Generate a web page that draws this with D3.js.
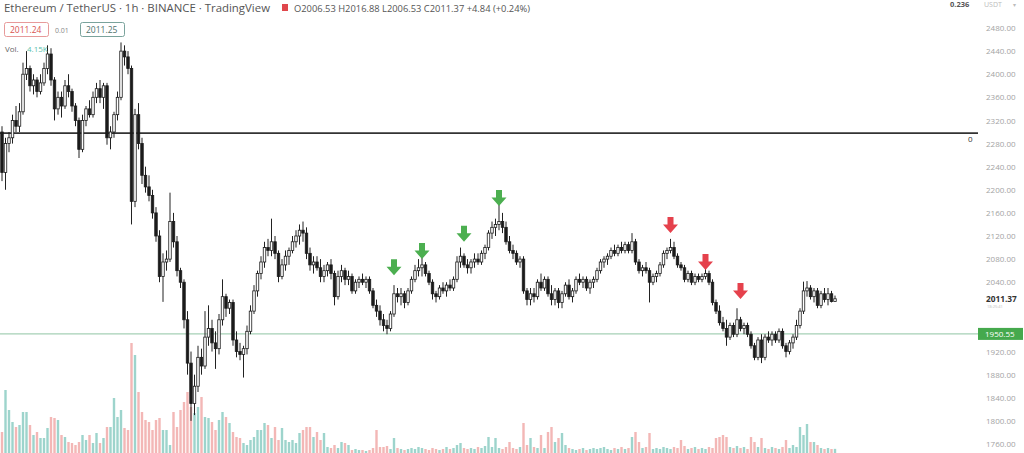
<!DOCTYPE html>
<html><head><meta charset="utf-8">
<script src="https://cdn.jsdelivr.net/npm/d3@7"></script>
<style>html,body{margin:0;padding:0;background:#fff;overflow:hidden}svg{display:block;font-family:"Open Sans","Liberation Sans",Arial,sans-serif}</style>
</head><body><svg id="c" width="1024" height="453"></svg>
<script>
const opens=[
2300,2230,2280,2290,2320,2310,2335,2400,2410,2380,
2390,2370,2385,2410,2435,2390,2340,2360,2345,2380,
2370,2345,2320,2270,2320,2340,2330,2360,2375,2360,
2380,2290,2300,2330,2360,2440,2430,2410,2180,2330,
2280,2225,2205,2190,2160,2120,2050,2075,2080,2145,
2110,2060,2040,1975,1900,1830,1860,1910,1895,1945,
1960,1935,1925,1975,2015,1995,2005,1940,1920,1915,
1925,1955,1990,2025,2055,2075,2100,2095,2110,2090,
2050,2070,2085,2095,2110,2120,2130,2125,2090,2070,
2075,2065,2050,2060,2070,2055,2015,2050,2060,2045,
2050,2025,2040,2045,2040,2045,2025,2000,1990,1975,
1965,1960,1985,2020,2015,2020,2005,2025,2045,2060,
2065,2070,2055,2040,2020,2015,2030,2025,2035,2030,
2045,2075,2085,2070,2065,2075,2080,2075,2090,2100,
2125,2135,2140,2145,2135,2110,2095,2090,2075,2080,
2025,2010,2020,2015,2040,2030,2045,2020,2010,2025,
2005,2020,2035,2015,2025,2045,2040,2045,2030,2040,
2045,2060,2075,2080,2085,2095,2090,2100,2095,2105,
2095,2110,2075,2060,2065,2060,2040,2050,2055,2070,
2090,2095,2100,2085,2070,2065,2045,2055,2040,2050,
2045,2050,2055,2040,2005,1990,1970,1960,1945,1965,
1950,1975,1960,1965,1950,1930,1910,1940,1910,1945,
1940,1950,1940,1955,1930,1920,1935,1945,1965,1990,
2025,2030,2015,2025,2000,2020,2010,2020,2006.53];
const highs=[
2310,2290,2300,2330,2345,2350,2420,2440,2415,2400,
2395,2400,2420,2450,2445,2395,2370,2370,2390,2400,
2375,2350,2325,2330,2345,2355,2370,2385,2390,2385,
2385,2310,2335,2370,2455,2450,2440,2415,2340,2350,
2290,2240,2225,2200,2170,2130,2090,2095,2195,2160,
2120,2065,2045,1990,1920,1880,1930,1925,1990,2000,
1975,1955,1985,2045,2020,2010,2010,1955,1935,1930,
1965,2000,2035,2060,2085,2110,2115,2150,2120,2095,
2080,2095,2100,2120,2130,2140,2145,2135,2100,2085,
2085,2080,2070,2075,2080,2060,2060,2070,2065,2060,
2055,2045,2050,2055,2050,2050,2030,2010,2000,1985,
1975,1990,2035,2030,2030,2025,2030,2050,2070,2080,
2085,2075,2060,2045,2025,2035,2040,2040,2045,2050,
2085,2100,2090,2080,2080,2090,2090,2095,2105,2130,
2145,2150,2175,2160,2145,2120,2105,2095,2085,2085,
2030,2030,2030,2045,2055,2050,2050,2035,2030,2030,
2025,2040,2045,2030,2050,2055,2050,2050,2045,2050,
2065,2080,2085,2090,2100,2105,2105,2110,2110,2110,
2125,2115,2080,2070,2075,2065,2055,2060,2075,2095,
2100,2115,2110,2090,2075,2070,2060,2060,2055,2055,
2055,2065,2060,2045,2010,2000,1980,1975,1970,1970,
1995,1980,1970,1970,1955,1935,1945,1950,1950,1955,
1955,1955,1960,1960,1935,1940,1950,1975,1995,2041,
2042,2035,2030,2030,2025,2030,2030,2025,2016.88];
const lows=[
2215,2200,2265,2280,2300,2300,2330,2390,2370,2365,
2360,2365,2380,2400,2380,2320,2330,2325,2340,2360,
2335,2310,2255,2265,2310,2325,2325,2350,2350,2340,
2278,2270,2290,2320,2355,2415,2400,2140,2170,2270,
2210,2195,2180,2150,2110,2040,2006,2060,2075,2100,
2050,2030,1960,1880,1800,1810,1850,1880,1890,1930,
1920,1890,1915,1965,1980,1985,1930,1910,1905,1875,
1915,1950,1985,2015,2045,2065,2085,2085,2080,2040,
2045,2060,2070,2090,2100,2105,2110,2080,2060,2055,
2060,2040,2040,2050,2045,2000,2010,2040,2035,2035,
2020,2020,2030,2035,2030,2020,1995,1980,1965,1955,
1950,1955,1980,2005,2000,1995,2000,2020,2040,2050,
2050,2050,2035,2010,2005,2010,2020,2015,2025,2025,
2040,2065,2065,2055,2055,2065,2070,2070,2080,2095,
2115,2120,2130,2125,2105,2090,2080,2070,2065,2020,
2000,2000,2005,2010,2025,2025,2015,2000,2000,1995,
1995,2015,2010,2005,2020,2035,2030,2025,2020,2030,
2040,2055,2065,2070,2080,2085,2085,2090,2090,2090,
2090,2070,2055,2050,2055,2005,2035,2040,2050,2065,
2080,2090,2080,2065,2060,2040,2040,2035,2035,2040,
2040,2045,2035,2000,1985,1965,1955,1930,1940,1945,
1945,1955,1950,1945,1925,1905,1905,1900,1905,1935,
1930,1935,1935,1925,1910,1915,1925,1940,1960,1985,
2015,2010,2005,1995,1995,2005,2000,2005,2006.53];
const closes=[
2230,2280,2290,2320,2310,2335,2400,2410,2380,2390,
2370,2385,2410,2435,2390,2340,2360,2345,2380,2370,
2345,2320,2270,2320,2340,2330,2360,2375,2360,2380,
2290,2300,2330,2360,2440,2430,2410,2180,2330,2280,
2225,2205,2190,2160,2120,2050,2075,2080,2145,2110,
2060,2040,1975,1900,1830,1860,1910,1895,1945,1960,
1935,1925,1975,2015,1995,2005,1940,1920,1915,1925,
1955,1990,2025,2055,2075,2100,2095,2110,2090,2050,
2070,2085,2095,2110,2120,2130,2125,2090,2070,2075,
2065,2050,2060,2070,2055,2015,2050,2060,2045,2050,
2025,2040,2045,2040,2045,2025,2000,1990,1975,1965,
1960,1985,2020,2015,2020,2005,2025,2045,2060,2065,
2070,2055,2040,2020,2015,2030,2025,2035,2030,2045,
2075,2085,2070,2065,2075,2080,2075,2090,2100,2125,
2135,2140,2145,2135,2110,2095,2090,2075,2080,2025,
2010,2020,2015,2040,2030,2045,2020,2010,2025,2005,
2020,2035,2015,2025,2045,2040,2045,2030,2040,2045,
2060,2075,2080,2085,2095,2090,2100,2095,2105,2095,
2110,2075,2060,2065,2060,2040,2050,2055,2070,2090,
2095,2100,2085,2070,2065,2045,2055,2040,2050,2045,
2050,2055,2040,2005,1990,1970,1960,1945,1965,1950,
1975,1960,1965,1950,1930,1910,1940,1910,1945,1940,
1950,1940,1955,1930,1920,1935,1945,1965,1990,2025,
2030,2015,2025,2000,2020,2010,2020,2006.53,2011.37];
const volumes=[
21,63,43,31,26,28,41,41,28,18,
21,15,15,25,36,35,33,18,16,11,
10,8,11,18,13,18,10,20,10,15,
26,26,55,36,43,25,23,110,98,61,
41,33,31,23,33,35,23,23,8,41,
26,43,51,61,46,40,46,56,36,35,
31,23,33,41,36,30,21,16,15,10,
8,13,16,23,23,30,28,15,26,13,
25,13,11,13,10,20,23,26,26,16,
21,13,20,6,5,8,5,11,10,8,
3,4,3,3,2,3,5,23,6,6,
7,4,15,5,4,3,4,5,4,6,
5,4,3,5,4,3,4,6,4,5,
8,10,5,4,5,4,6,5,7,16,
6,15,5,4,6,11,5,4,6,30,
8,15,6,5,18,5,21,26,11,15,
20,8,5,4,3,4,5,3,4,5,
4,5,6,4,3,5,4,6,4,5,
16,21,11,5,6,20,4,5,4,6,
5,4,6,5,13,7,4,5,6,4,
5,4,6,5,15,16,18,16,6,5,
7,5,6,4,16,11,6,15,5,4,
6,5,4,6,13,5,8,6,26,18,
29,11,11,8,5,4,5,4,4.15];
const priceTicks=[2480,2440,2400,2360,2320,2280,2240,2200,2160,2120,2080,2040,1920,1880,1840,1800,1760];
const fibLevel=2298;
const supportLevel=1950.55;
const lastPrice=2011.37;
const greenArrowIdx=[112,120,132,142];
const greenArrowTip=[2052,2080,2110,2172];
const redArrowIdx=[191,201,211];
const redArrowTip=[2125,2061,2011];

const svg=d3.select("#c");
const x=d3.scaleLinear().domain([0,closes.length-1]).range([2,835]);
const y=d3.scaleLinear().domain([1760,2480]).range([444,28]);
const yv=d3.scaleLinear().domain([0,120]).range([453,333]);
const data=closes.map((c,i)=>({i,o:opens[i],h:highs[i],l:lows[i],c,v:volumes[i]}));

// volume
svg.append("g").selectAll("rect").data(data).join("rect")
 .attr("x",d=>x(d.i)-1.2).attr("width",2.4)
 .attr("y",d=>yv(d.v)).attr("height",d=>453-yv(d.v))
 .attr("fill",d=>d.c>=d.o?"#9dd4cc":"#f3b7b6");

// horizontal lines
svg.append("line").attr("x1",0).attr("x2",979).attr("y1",y(supportLevel)).attr("y2",y(supportLevel))
 .attr("stroke","#a6d0b6").attr("stroke-width",1.3);
svg.append("line").attr("x1",0).attr("x2",978).attr("y1",y(fibLevel)).attr("y2",y(fibLevel))
 .attr("stroke","#333").attr("stroke-width",1.8);
svg.append("text").attr("x",968).attr("y",y(fibLevel)+9).attr("font-size",8).attr("fill","#333").text("0");

// candles
const cg=svg.append("g");
cg.selectAll("line").data(data).join("line")
 .attr("x1",d=>x(d.i)).attr("x2",d=>x(d.i))
 .attr("y1",d=>y(d.h)).attr("y2",d=>y(d.l))
 .attr("stroke","#222").attr("stroke-width",1);
cg.selectAll("rect").data(data).join("rect")
 .attr("x",d=>x(d.i)-1.25).attr("width",2.5)
 .attr("y",d=>y(Math.max(d.o,d.c)))
 .attr("height",d=>Math.max(1,Math.abs(y(d.o)-y(d.c))))
 .attr("fill",d=>d.c>=d.o?"#fff":"#1b1b1b")
 .attr("stroke","#1b1b1b").attr("stroke-width",0.8);

// arrows
function arrowPath(cx,tip){
  return `M${cx-3},${tip-16}L${cx+3},${tip-16}L${cx+3},${tip-8.5}L${cx+7.5},${tip-8.5}L${cx},${tip}L${cx-7.5},${tip-8.5}L${cx-3},${tip-8.5}Z`;
}
svg.append("g").selectAll("path").data(greenArrowIdx).join("path")
 .attr("d",(d,k)=>arrowPath(x(d),y(greenArrowTip[k]))).attr("fill","#4caf50");
svg.append("g").selectAll("path").data(redArrowIdx).join("path")
 .attr("d",(d,k)=>arrowPath(x(d),y(redArrowTip[k]))).attr("fill","#e5414c");

// price axis
const axis=d3.axisRight(y).tickValues(priceTicks).tickFormat(d3.format(".2f")).tickSize(0).tickPadding(0);
const ag=svg.append("g").attr("transform","translate(986,0)").call(axis);
ag.select(".domain").remove();
ag.selectAll("text").attr("font-size",8).attr("fill","#a3a3a3").attr("font-family","Open Sans, sans-serif");

// last price
svg.append("text").attr("x",986).attr("y",y(lastPrice)+3).attr("font-size",8.3).attr("font-weight","bold").attr("fill","#333").text(d3.format(".2f")(lastPrice));
svg.append("text").attr("x",987).attr("y",y(lastPrice)+9).attr("font-size",4).attr("fill","#bbb").text("18:25:41");
// support label
svg.append("rect").attr("x",978).attr("y",y(supportLevel)-6).attr("width",45).attr("height",12).attr("fill","#45a94d");
svg.append("text").attr("x",985).attr("y",y(supportLevel)+3).attr("font-size",8).attr("fill","#fff").text(d3.format(".2f")(supportLevel));

// top right
svg.append("text").attr("x",950).attr("y",7).attr("font-size",7.5).attr("font-weight","bold").attr("fill","#555").text("0.236");
svg.append("text").attr("x",984).attr("y",7).attr("font-size",7).attr("fill","#bbb").text("USDT");
svg.append("text").attr("x",1013).attr("y",7).attr("font-size",6).attr("fill","#bbb").text("▾");

// header
svg.append("text").attr("x",4).attr("y",12).attr("font-size",10).attr("fill","#555")
 .attr("textLength",266).attr("lengthAdjust","spacingAndGlyphs")
 .text("Ethereum / TetherUS · 1h · BINANCE · TradingView");
svg.append("rect").attr("x",282).attr("y",4).attr("width",6).attr("height",7).attr("fill","#e0474c");
svg.append("text").attr("x",294).attr("y",12).attr("font-size",8.5).attr("fill","#555")
 .attr("textLength",236).attr("lengthAdjust","spacingAndGlyphs")
 .text("O2006.53 H2016.88 L2006.53 C2011.37 +4.84 (+0.24%)");
svg.append("rect").attr("x",4.5).attr("y",22.5).attr("width",44).attr("height",14).attr("rx",2).attr("fill","#fff").attr("stroke","#e79a9a");
svg.append("text").attr("x",10).attr("y",32.5).attr("font-size",8.5).attr("fill","#d9534f").text("2011.24");
svg.append("text").attr("x",55).attr("y",32.5).attr("font-size",7).attr("fill","#888").text("0.01");
svg.append("rect").attr("x",80.5).attr("y",22.5).attr("width",44).attr("height",14).attr("rx",2).attr("fill","#fff").attr("stroke","#7aa39c");
svg.append("text").attr("x",86).attr("y",32.5).attr("font-size",8.5).attr("fill","#4f716c").text("2011.25");
svg.append("text").attr("x",5).attr("y",52).attr("font-size",8).attr("fill","#666").text("Vol.");
svg.append("text").attr("x",27).attr("y",52).attr("font-size",8).attr("fill","#5cbfae").text((volumes[volumes.length-1])+"K");
</script></body></html>
